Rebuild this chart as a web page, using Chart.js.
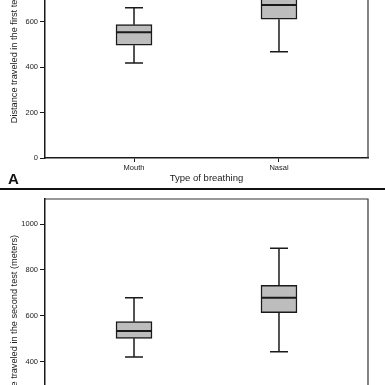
<!DOCTYPE html>
<html>
<head>
<meta charset="utf-8">
<script src="https://cdn.jsdelivr.net/npm/chart.js@4.4.1/dist/chart.umd.min.js"></script>
<style>
  html, body { margin: 0; padding: 0; background: #fff; width: 385px; height: 385px; overflow: hidden; }
  #wrap { position: relative; width: 385px; height: 385px; overflow: hidden; }
  #top { position: absolute; left: 0; top: -130px; width: 385px; height: 320px; }
  #bottom { position: absolute; left: 0; top: 190px; width: 385px; height: 295px; }
  #sep { position: absolute; left: 0; top: 188px; width: 385px; height: 2px; background: #111; }
  #labelA { position: absolute; left: 8px; top: 170px; font: bold 15px 'Liberation Sans', Arial, sans-serif; color: #111; }
</style>
</head>
<body>
<div id="wrap">
  <div id="top"><canvas id="chartA"></canvas></div>
  <div id="sep"></div>
  <div id="labelA">A</div>
  <div id="bottom"><canvas id="chartB"></canvas></div>
</div>
<script>
const categories = ['Mouth', 'Nasal'];
const yTicks = [0, 200, 400, 600, 800, 1000];

// first test (panel A)
const firstLow = [419, 469];
const firstQ1 = [497, 612];
const firstMedian = [555, 675];
const firstQ3 = [588, 735];
const firstHigh = [662, 880];

// second test (panel B)
const secondLow = [419, 442];
const secondQ1 = [501, 613];
const secondMedian = [533, 678];
const secondQ3 = [574, 733];
const secondHigh = [679, 895];

const FONT = "'Liberation Sans', Arial, sans-serif";
const INK = '#1a1a1a';

// whiskers, medians and the top/right frame
const boxPlugin = {
    id: 'boxExtras',
    afterDatasetsDraw(c, args, opts) {
        const { ctx, chartArea } = c;
        const xs = c.scales.x;
        const ys = c.scales.y;
        ctx.save();
        ctx.strokeStyle = INK;
        ctx.lineCap = 'butt';
        opts.low.forEach((lo, i) => {
            const px = xs.getPixelForValue(i + 1);
            ctx.lineWidth = 1.5;
            ctx.beginPath();
            ctx.moveTo(px, ys.getPixelForValue(opts.q3[i]));
            ctx.lineTo(px, ys.getPixelForValue(opts.high[i]));
            ctx.moveTo(px, ys.getPixelForValue(opts.q1[i]));
            ctx.lineTo(px, ys.getPixelForValue(lo));
            // caps
            ctx.moveTo(px - 9, ys.getPixelForValue(opts.high[i]));
            ctx.lineTo(px + 9, ys.getPixelForValue(opts.high[i]));
            ctx.moveTo(px - 9, ys.getPixelForValue(lo));
            ctx.lineTo(px + 9, ys.getPixelForValue(lo));
            ctx.stroke();
            // median
            ctx.lineWidth = 2;
            ctx.beginPath();
            ctx.moveTo(px - 18, ys.getPixelForValue(opts.median[i]));
            ctx.lineTo(px + 18, ys.getPixelForValue(opts.median[i]));
            ctx.stroke();
        });
        ctx.lineWidth = 1.2;
        ctx.strokeStyle = '#333';
        ctx.beginPath();
        ctx.moveTo(chartArea.left, chartArea.top);
        ctx.lineTo(chartArea.right, chartArea.top);
        ctx.lineTo(chartArea.right, chartArea.bottom);
        ctx.stroke();
        ctx.restore();
    }
};

function makePanel(id, low, q1, median, q3, high, yTitle, padTop, yMax) {
    const boxes = categories.map((name, i) => ({ x: i + 1, y: [q1[i], q3[i]] }));
    return new Chart(document.getElementById(id), {
        type: 'bar',
        data: {
            datasets: [{
                data: boxes,
                backgroundColor: '#bdbdbd',
                borderColor: INK,
                borderWidth: 1.5,
                borderSkipped: false,
                barThickness: 36,
            }],
        },
        options: {
            responsive: true,
            maintainAspectRatio: false,
            animation: false,
            layout: { padding: { top: padTop, right: 17, bottom: 0, left: 0 } },
            plugins: {
                legend: { display: false },
                tooltip: { enabled: false },
                boxExtras: { low, q1, median, q3, high },
            },
            scales: {
                x: {
                    type: 'linear',
                    min: 0.386,
                    max: 2.614,
                    offset: false,
                    afterBuildTicks: (s) => { s.ticks = categories.map((n, i) => ({ value: i + 1 })); },
                    afterFit: (s) => { s.height = 32; },
                    border: { color: INK, width: 1.5 },
                    grid: { offset: false, drawOnChartArea: false, tickLength: 4, color: INK, lineWidth: 1 },
                    ticks: {
                        padding: 1,
                        color: '#222',
                        font: { family: FONT, size: 7.5 },
                        callback: (v) => categories[v - 1] ?? '',
                        maxRotation: 0,
                    },
                    title: {
                        display: true,
                        text: 'Type of breathing',
                        color: '#222',
                        font: { family: FONT, size: 9.5 },
                        padding: { top: 0, bottom: 6 },
                    },
                },
                y: {
                    min: 0,
                    max: yMax,
                    afterBuildTicks: (s) => { s.ticks = yTicks.map((v) => ({ value: v })); },
                    afterFit: (s) => { s.width = 45; },
                    border: { color: INK, width: 1.5 },
                    grid: { drawOnChartArea: false, tickLength: 5, color: INK, lineWidth: 1 },
                    ticks: {
                        padding: 2,
                        color: '#222',
                        font: { family: FONT, size: 7.5 },
                        callback: (v) => String(v),
                    },
                    title: {
                        display: true,
                        text: yTitle,
                        color: '#222',
                        font: { family: FONT, size: 9.2 },
                        padding: { top: 9, bottom: 0 },
                    },
                },
            },
        },
        plugins: [boxPlugin],
    });
}

makePanel('chartA', firstLow, firstQ1, firstMedian, firstQ3, firstHigh,
    'Distance traveled in the first test (meters)', 51, 1045);
makePanel('chartB', secondLow, secondQ1, secondMedian, secondQ3, secondHigh,
    'Distance traveled in the second test (meters)', 9, 1110);
</script>
</body>
</html>
